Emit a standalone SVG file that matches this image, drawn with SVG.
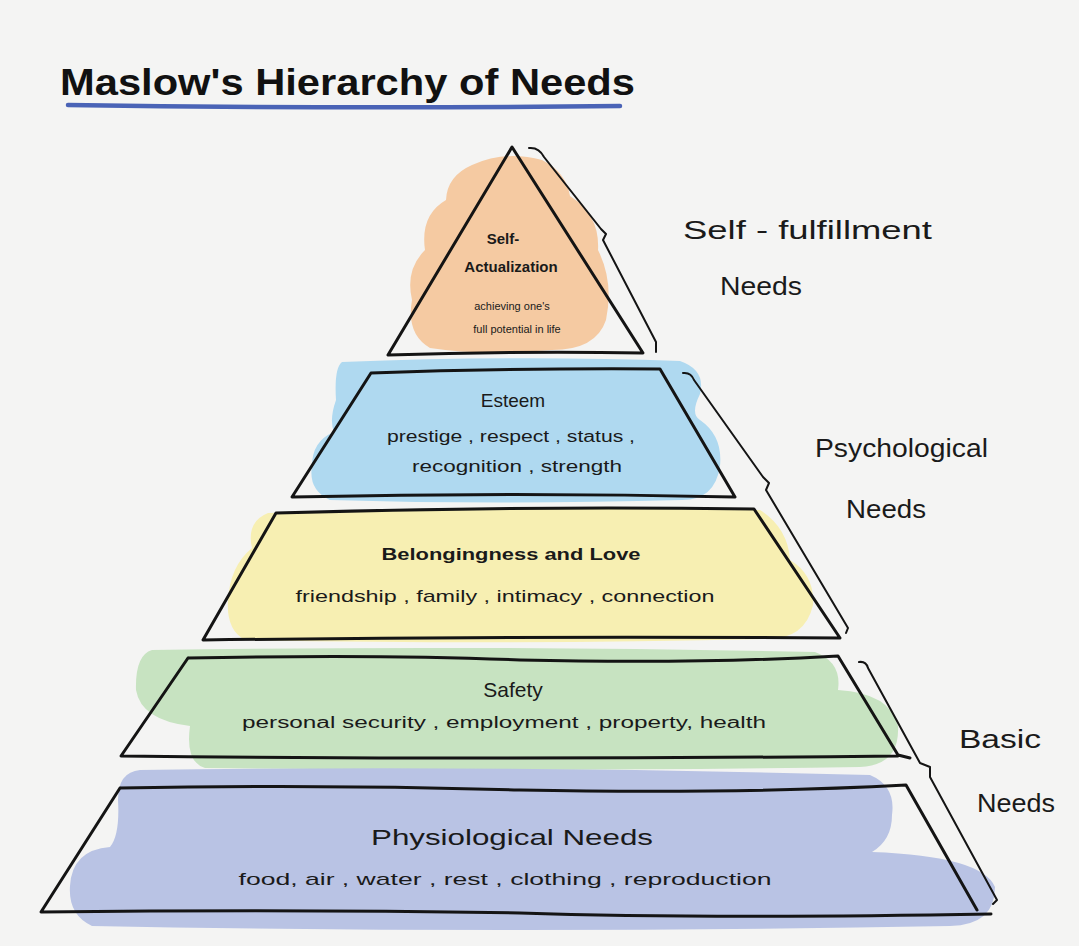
<svg xmlns="http://www.w3.org/2000/svg" width="1079" height="946" viewBox="0 0 1079 946">
<defs>
<style>
.bg{fill:#f4f4f3}
.ink{fill:none;stroke:#141414;stroke-width:3;stroke-linejoin:round;stroke-linecap:round}
.br{fill:none;stroke:#141414;stroke-width:2;stroke-linecap:round;stroke-linejoin:round}
.t{font-family:"Liberation Sans Narrow","Liberation Sans",Arial,sans-serif;fill:#1a1a1a;text-anchor:middle}
.h{font-weight:bold}
.side{font-family:"Liberation Sans Narrow","Liberation Sans",Arial,sans-serif;fill:#1a1a1a;font-size:26px}
</style>
</defs>
<rect class="bg" x="0" y="0" width="1079" height="946"/>

<g id="title">
<text x="60" y="95" font-family="Liberation Sans Narrow,Liberation Sans,Arial,sans-serif" font-size="36" font-weight="bold" fill="#111" textLength="575" lengthAdjust="spacingAndGlyphs">Maslow's  Hierarchy  of  Needs</text>
<path d="M68,105 Q340,109 620,106" stroke="#4a63b6" stroke-width="4.5" fill="none" stroke-linecap="round"/>
</g>

<g id="self-actualization">
<path d="M472,165 Q505,150 542,160 Q566,172 570,196 Q600,215 598,250 Q614,282 606,320 Q596,350 552,350 Q482,356 430,348 Q406,334 412,300 Q405,270 425,250 Q420,215 446,200 Q447,176 472,165 Z" fill="#f5caa2"/>
<path class="ink" d="M512,147 L388,355 Q515,351 643,353 Z"/>
<text class="t h" x="503" y="244" font-size="15">Self-</text>
<text class="t h" x="511" y="272" font-size="15">Actualization</text>
<text class="t" x="512" y="310" font-size="11">achieving one's</text>
<text class="t" x="517" y="333" font-size="11">full potential in life</text>
</g>

<g id="esteem">
<path d="M342,362 Q520,355 680,361 Q706,370 700,394 Q690,414 700,420 Q723,436 720,466 Q715,500 682,500 Q500,505 330,500 Q308,490 312,466 Q312,441 334,432 Q329,420 336,400 Q334,368 342,362 Z" fill="#afd9f0"/>
<path class="ink" d="M371,373 Q515,368 660,369 L735,497 Q515,492 292,497 Z"/>
<text class="t" x="513" y="407" font-size="19">Esteem</text>
<text class="t" x="511" y="442" font-size="16" textLength="248" lengthAdjust="spacingAndGlyphs">prestige , respect , status ,</text>
<text class="t" x="517" y="472" font-size="16" textLength="210" lengthAdjust="spacingAndGlyphs">recognition , strength</text>
</g>

<g id="belongingness">
<path d="M268,513 Q520,506 760,510 Q788,528 790,560 Q815,575 813,605 Q805,640 765,639 Q520,645 245,640 Q226,630 228,600 Q230,566 252,548 Q246,522 268,513 Z" fill="#f7efb2"/>
<path class="ink" d="M276,513 Q510,506 754,509 L840,638 Q520,636 203,640 Z"/>
<text class="t h" x="511" y="560" font-size="17" textLength="259" lengthAdjust="spacingAndGlyphs">Belongingness  and Love</text>
<text class="t" x="505" y="602" font-size="17" textLength="419" lengthAdjust="spacingAndGlyphs">friendship , family , intimacy , connection</text>
</g>

<g id="safety">
<path d="M152,650 Q480,645 815,652 Q842,662 838,690 Q890,693 898,726 Q900,765 860,767 Q520,772 205,768 Q185,762 190,726 Q141,720 136,690 Q135,655 152,650 Z" fill="#c7e3c1"/>
<path class="ink" d="M188,658 Q380,654 520,660 Q700,664 838,656 L898,755 Q910,758 910,758 M898,756 Q500,760 121,756 L188,658"/>
<text class="t" x="513" y="697" font-size="21">Safety</text>
<text class="t" x="504" y="728" font-size="16" textLength="524" lengthAdjust="spacingAndGlyphs">personal  security , employment , property, health</text>
</g>

<g id="physiological">
<path d="M140,770 Q500,765 870,775 Q896,786 892,815 Q892,840 872,852 Q982,856 995,887 Q995,925 950,926 Q520,934 92,926 Q68,915 70,886 Q72,850 110,847 Q120,835 118,800 Q118,772 140,770 Z" fill="#b9c3e4"/>
<path class="ink" d="M120,788 Q320,784 520,790 Q740,794 906,785 L977,910 M991,914 Q700,919 520,913 Q300,909 41,912 L120,788"/>
<text class="t" x="512" y="845" font-size="22" textLength="282" lengthAdjust="spacingAndGlyphs">Physiological  Needs</text>
<text class="t" x="505" y="885" font-size="17" textLength="533" lengthAdjust="spacingAndGlyphs">food, air , water , rest , clothing , reproduction</text>
</g>

<g id="connectors">
<path class="br" d="M529,148 Q539,147 544,157 L601,229 L606,234 L603,240 L656,342 L656,352"/>
<path class="br" d="M683,373 Q691,372 694,380 L763,477 L769,483 L766,490 L848,628 L846,633"/>
<path class="br" d="M859,662 Q866,661 868,668 L920,763 L930,767 L930,777 L997,900 L993,904"/>
</g>

<g id="labels">
<text class="side" x="683" y="239" textLength="249" lengthAdjust="spacingAndGlyphs">Self   - fulfillment</text>
<text class="side" x="720" y="295" textLength="82" lengthAdjust="spacingAndGlyphs">Needs</text>
<text class="side" x="815" y="457" textLength="173" lengthAdjust="spacingAndGlyphs">Psychological</text>
<text class="side" x="846" y="518" textLength="80" lengthAdjust="spacingAndGlyphs">Needs</text>
<text class="side" x="959" y="748" textLength="82" lengthAdjust="spacingAndGlyphs">Basic</text>
<text class="side" x="977" y="812" textLength="78" lengthAdjust="spacingAndGlyphs">Needs</text>
</g>
</svg>
